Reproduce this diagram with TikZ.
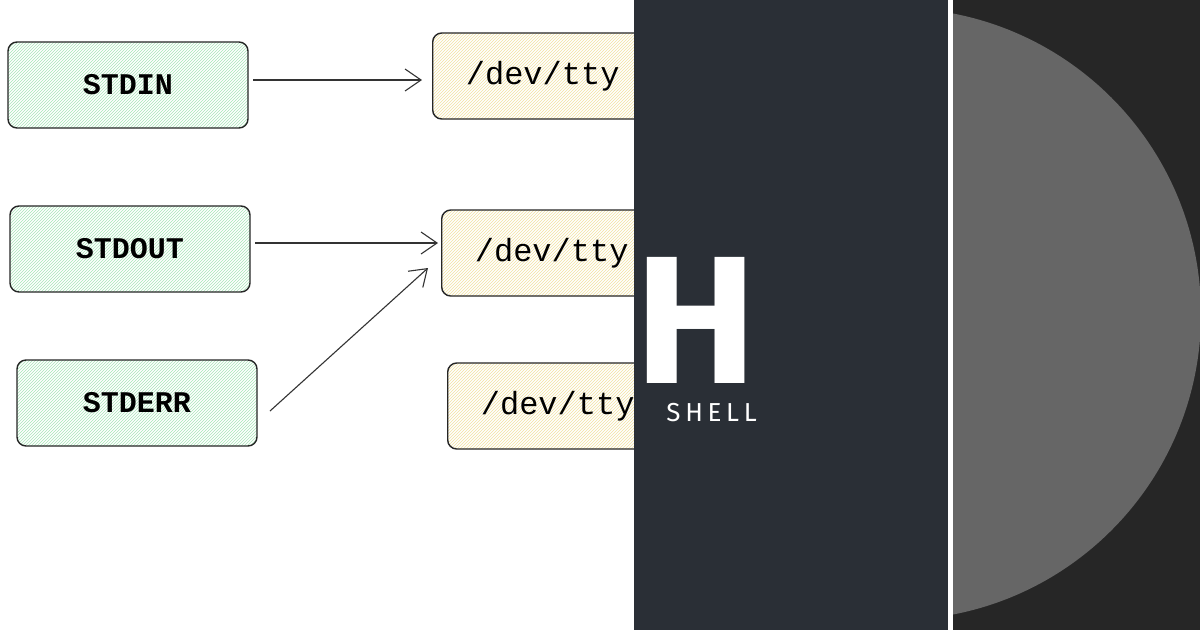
\documentclass[tikz,border=0pt]{standalone}
\usepackage{fontspec}
\setmainfont{Fira Sans}
\newfontfamily\handfont{Liberation Mono}
\usetikzlibrary{patterns,arrows.meta}
\definecolor{panel}{HTML}{2A2F36}
\definecolor{backdrk}{HTML}{262626}
\definecolor{discgray}{HTML}{666666}
\definecolor{hatchgreen}{HTML}{A8E6B8}
\definecolor{hatchyellow}{HTML}{F2E2A0}
\begin{document}
\begin{tikzpicture}[x=1pt,y=-1pt,
    stream/.style={draw=black!85,line width=1.4pt,rounded corners=9pt,pattern=north east lines,pattern color=hatchgreen,
      minimum width=240pt,minimum height=86pt,font=\handfont\fontsize{30}{34}\selectfont\bfseries},
    device/.style={stream,pattern color=hatchyellow,minimum width=250pt,anchor=west,font=\handfont\fontsize{32}{34}\selectfont},
    flow/.style={draw=black!80,line width=1.1pt,-{Straight Barb[length=16pt,width=22pt]}}]
    \useasboundingbox (0,0) rectangle (1200,630);
    \fill[white] (0,0) rectangle (634,630);

    \begin{scope}
        \clip (0,0) rectangle (634,630);
        \node[stream] (in) at (128,85) {STDIN};
        \node[stream] (out) at (130,249) {STDOUT};
        \node[stream] (err) at (137,403) {STDERR};

        \node[device] (tty0) at (432,76) {\hspace*{-30pt}/dev/tty};
        \node[device] (tty1) at (441,253) {\hspace*{-30pt}/dev/tty};
        \node[device] (tty2) at (447,406) {\hspace*{-30pt}/dev/tty};

        \draw[flow] (253,80) -- (422,80);
        \draw[flow] (255,243) -- (438,243);
        \draw[flow] (270,411) -- (428,268);
    \end{scope}

    % right side
    \fill[panel] (634,0) rectangle (948,630);
    \fill[white] (948,0) rectangle (953,630);
    \fill[backdrk] (953,0) rectangle (1200,630);
    \begin{scope}
        \clip (953,0) rectangle (1200,630);
        \fill[discgray] (895,314) circle (306);
    \end{scope}

    \begin{scope}
        \clip (634,0) rectangle (948,630);
        \node[anchor=base east,text=white,inner sep=0pt,font=\fontsize{182}{182}\selectfont\bfseries] (logo) at (757,383) {SH};
    \end{scope}
    \node[anchor=base east,text=white,inner sep=0pt,font=\fontsize{26}{26}\selectfont\addfontfeature{LetterSpace=18}] (shell) at (757,421) {SHELL};
\end{tikzpicture}
\end{document}
